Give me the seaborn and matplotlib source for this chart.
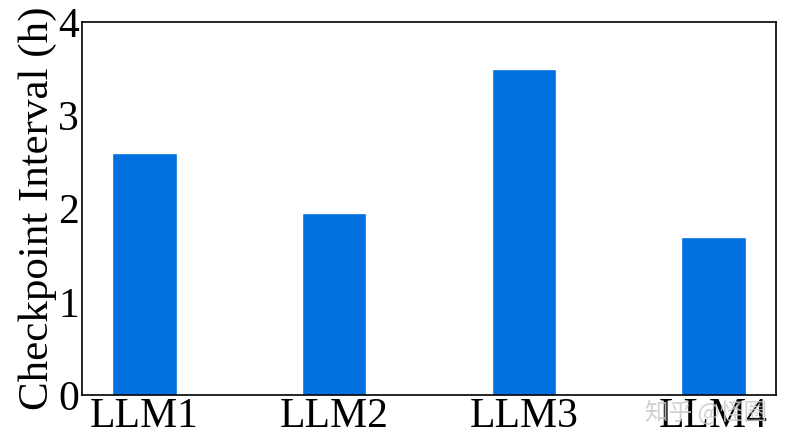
import matplotlib
matplotlib.use("Agg")
import matplotlib.pyplot as plt
import seaborn as sns
import pandas as pd

models = ["LLM1", "LLM2", "LLM3", "LLM4"]
interval_h = [2.6, 1.95, 3.5, 1.7]

sns.set_style("white")
plt.rcParams['font.family'] = ['Liberation Serif', 'DejaVu Serif']
plt.rcParams['text.color'] = 'black'
plt.rcParams['axes.labelcolor'] = 'black'
plt.rcParams['xtick.color'] = 'black'
plt.rcParams['ytick.color'] = 'black'

df = pd.DataFrame({"model": models, "interval": interval_h})

fig, ax = plt.subplots(figsize=(7.88, 4.40), dpi=100)
sns.barplot(data=df, x="model", y="interval", color="#006FE0", saturation=1,
            width=0.34, ax=ax)

ax.set_xlim(-0.33, 3.33)
ax.set_ylim(0, 4)
ax.set_yticks([0, 1, 2, 3, 4])
ax.set_xlabel("")
ax.set_ylabel("Checkpoint Interval (h)", fontsize=31, labelpad=1)
ax.tick_params(axis="both", length=0, labelsize=30, pad=2)
for s in ax.spines.values():
    s.set_color("black")
    s.set_linewidth(1.2)

fig.subplots_adjust(left=0.104, right=0.985, top=0.95, bottom=0.102)

# watermark
fig.text(0.818, 0.048, "知乎 @怪圈", fontsize=17, color="#c8c8c8", alpha=0.85,
         family=['Noto Sans CJK SC', 'DejaVu Sans'])

fig.savefig("out.png", dpi=100)
